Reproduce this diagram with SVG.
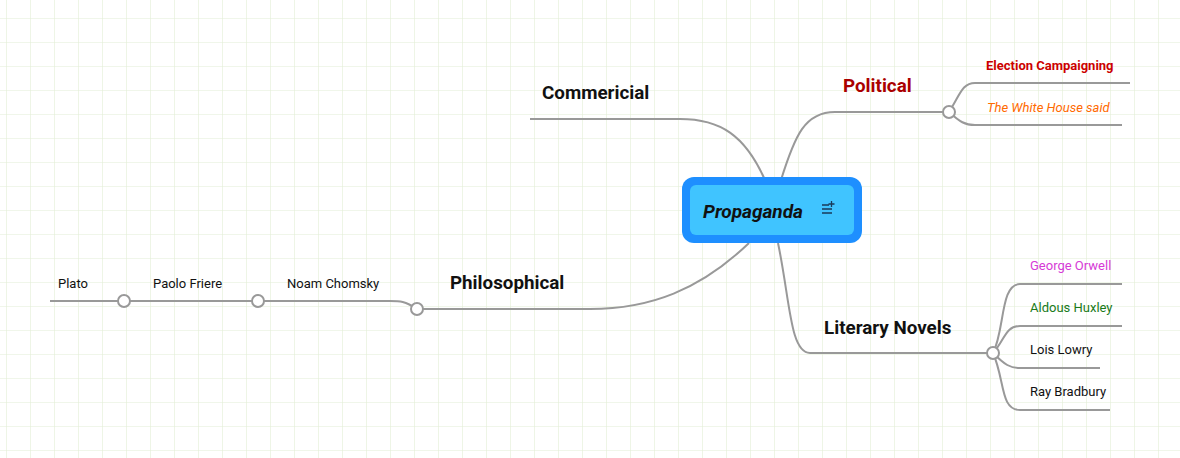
<svg xmlns="http://www.w3.org/2000/svg" width="1180" height="458" viewBox="0 0 1180 458">
<defs>
<pattern id="grid" x="6" y="18" width="24" height="24" patternUnits="userSpaceOnUse">
<path d="M0 0H24M0 0V24" fill="none" stroke="#e2eed6" stroke-width="1.2"/>
</pattern>
<style>
.c{fill:none;stroke:#999;stroke-width:2}
.k{fill:#fff;stroke:#999;stroke-width:2}
text{font-family:Roboto,"Liberation Sans",sans-serif}
.m{font-size:18.8px;font-weight:bold;fill:#111}
.s{font-size:13px;fill:#111}
</style>
</defs>
<rect width="1180" height="458" fill="#fff"/>
<rect width="1180" height="458" fill="url(#grid)"/>
<g id="connectors">
<path class="c" d="M765 180C745 135 720 119 680 119H530"/>
<path class="c" d="M781 180C795 135 805 112 835 112H949"/>
<path class="c" d="M949 112C960 95 962 83 975 83H1130"/>
<path class="c" d="M949 112C960 122 965 125 975 125H1122"/>
<path class="c" d="M749 243C700 290 650 309 590 309H417"/>
<path class="c" d="M417 309C405 301 400 301 390 301H50"/>
<path class="c" d="M778 243C790 300 790 353 810 353H993"/>
<path class="c" d="M993 353C1005 330 1000 284 1020 284H1122"/>
<path class="c" d="M993 353C1005 340 1005 326 1020 326H1122"/>
<path class="c" d="M993 353C1005 365 1010 368 1020 368H1100"/>
<path class="c" d="M993 353C1005 380 1000 410 1020 410H1110"/>
</g>
<g id="n-center">
<rect x="682" y="177" width="180" height="66" rx="12" fill="#1e8fff"/>
<rect x="690" y="185" width="164" height="50" rx="6" fill="#40c4ff"/>
<text x="703" y="218" font-size="19" font-weight="bold" font-style="italic" fill="#111">Propaganda</text>
<path d="M822 205h7M822 209h10M822 213h10" stroke="#1a3a5a" stroke-width="1.5"/>
<path d="M831.5 201v6M828.5 204h6" stroke="#1a3a5a" stroke-width="1.3"/>
</g>
<g id="n-commercial"><text class="m" x="542" y="99">Commericial</text></g>
<g id="n-political"><text class="m" x="843" y="92" style="fill:#aa0000">Political</text><circle class="k" cx="949" cy="112" r="6"/></g>
<g id="n-election"><text x="986" y="70" font-size="13" font-weight="bold" fill="#cc0000">Election Campaigning</text></g>
<g id="n-whitehouse"><text x="987" y="112" font-size="13" font-style="italic" fill="#ff6a00">The White House said</text></g>
<g id="n-philosophical"><text class="m" x="450" y="289">Philosophical</text><circle class="k" cx="417" cy="309" r="6"/></g>
<g id="n-chomsky"><text class="s" x="287" y="288">Noam Chomsky</text><circle class="k" cx="258" cy="301" r="6"/></g>
<g id="n-friere"><text class="s" x="153" y="288">Paolo Friere</text><circle class="k" cx="124" cy="301" r="6"/></g>
<g id="n-plato"><text class="s" x="58" y="288">Plato</text></g>
<g id="n-literary"><text class="m" x="824" y="334">Literary Novels</text><circle class="k" cx="993" cy="353" r="6"/></g>
<g id="n-orwell"><text x="1030" y="270" font-size="13" fill="#d63bd6">George Orwell</text></g>
<g id="n-huxley"><text x="1030" y="312" font-size="13" fill="#1a7a1a">Aldous Huxley</text></g>
<g id="n-lowry"><text class="s" x="1030" y="354">Lois Lowry</text></g>
<g id="n-bradbury"><text class="s" x="1030" y="396">Ray Bradbury</text></g>
</svg>
